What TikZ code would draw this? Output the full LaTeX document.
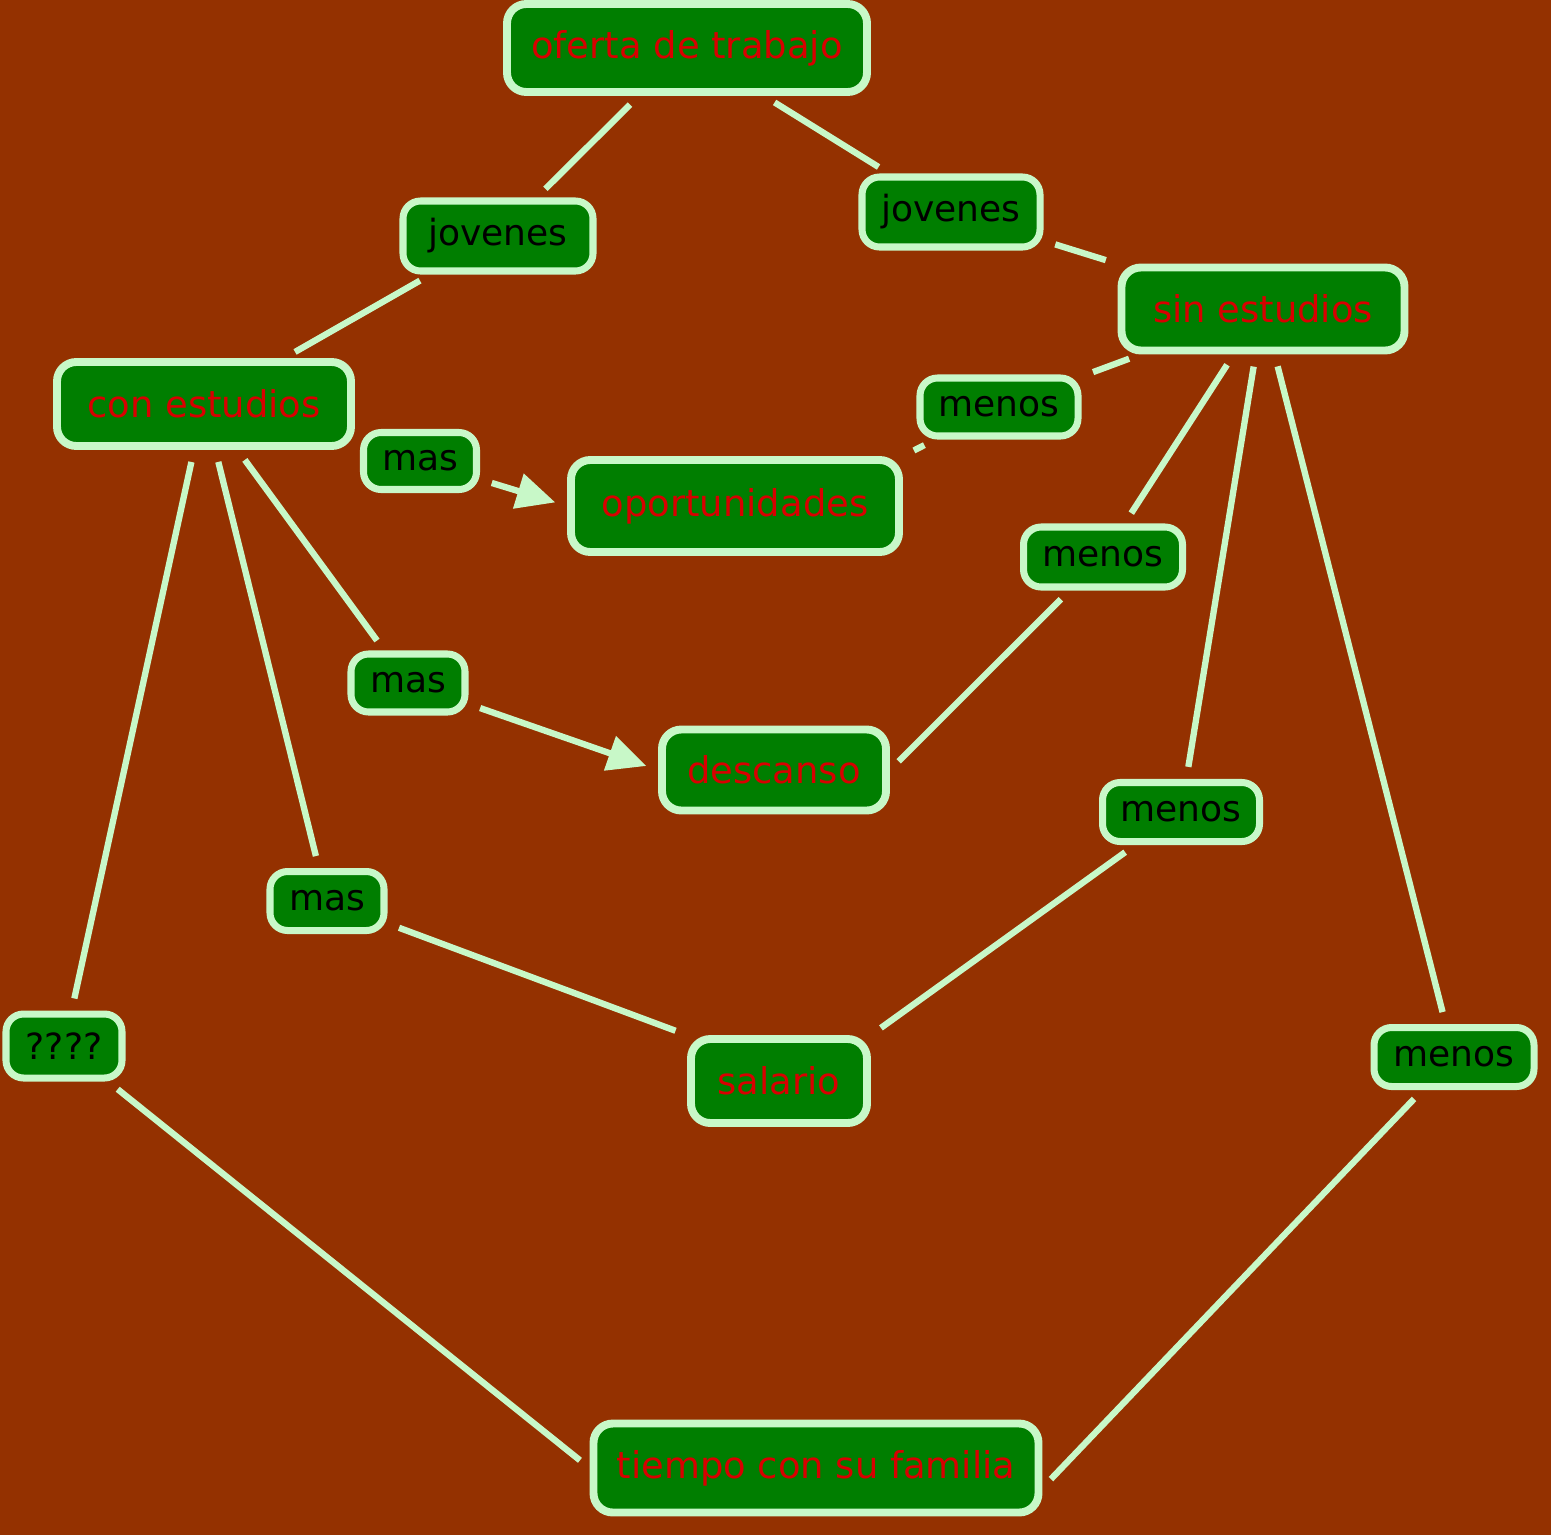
\documentclass[tikz,border=0pt]{standalone}
\usepackage{fontspec}
\setmainfont{DejaVu Sans}
\usetikzlibrary{arrows.meta}
\definecolor{bg}{HTML}{943100}
\definecolor{bd}{HTML}{C8F8C8}
\definecolor{gf}{HTML}{007E00}
\definecolor{rt}{HTML}{D80000}
\begin{document}
\begin{tikzpicture}[x=0.02cm,y=-0.02cm,
 concept/.style={draw=bd,line width=4.5pt,fill=gf,rounded corners=11pt,text=rt,font=\fontsize{21}{25}\selectfont,inner sep=0pt},
 link/.style={draw=bd,line width=4pt,fill=gf,rounded corners=10pt,text=black,font=\fontsize{20.5}{24}\selectfont,inner sep=0pt},
 conn/.style={draw=bd,line width=3.6pt,shorten >=7pt,shorten <=7pt},
 arr/.style={conn,-{Triangle[length=22pt,width=20pt]}}]
\fill[bg] (0,0) rectangle (1551,1535);
\useasboundingbox (0,0) rectangle (1551,1535);
\node[concept,minimum width=360*0.02cm,minimum height=88*0.02cm] (of) at (687,48) {oferta de trabajo};
\node[link,minimum width=190*0.02cm,minimum height=70*0.02cm] (j1) at (498,236) {jovenes};
\node[link,minimum width=178*0.02cm,minimum height=70*0.02cm] (j2) at (951,212) {jovenes};
\node[concept,minimum width=283*0.02cm,minimum height=83*0.02cm] (se) at (1263,309) {sin estudios};
\node[concept,minimum width=294*0.02cm,minimum height=84*0.02cm] (ce) at (204,404) {con estudios};
\node[link,minimum width=158*0.02cm,minimum height=58*0.02cm] (m1) at (999,407) {menos};
\node[link,minimum width=113*0.02cm,minimum height=57*0.02cm] (a1) at (420,461) {mas};
\node[concept,minimum width=328*0.02cm,minimum height=92*0.02cm] (op) at (735,506) {oportunidades};
\node[link,minimum width=159*0.02cm,minimum height=60*0.02cm] (m2) at (1103,557) {menos};
\node[link,minimum width=114*0.02cm,minimum height=58*0.02cm] (a2) at (408,683) {mas};
\node[concept,minimum width=224*0.02cm,minimum height=81*0.02cm] (de) at (774,770) {descanso};
\node[link,minimum width=157*0.02cm,minimum height=59*0.02cm] (m3) at (1181,812) {menos};
\node[link,minimum width=114*0.02cm,minimum height=59*0.02cm] (a3) at (327,901) {mas};
\node[link,minimum width=116*0.02cm,minimum height=64*0.02cm] (q) at (64,1046) {????};
\node[concept,minimum width=176*0.02cm,minimum height=84*0.02cm] (sa) at (779,1081) {salario};
\node[link,minimum width=160*0.02cm,minimum height=59*0.02cm] (m4) at (1454,1057) {menos};
\node[concept,minimum width=445*0.02cm,minimum height=89*0.02cm] (ti) at (816,1468) {tiempo con su familia};
\draw[conn] (of) -- (j1); \draw[conn] (j1) -- (ce);
\draw[conn] (of) -- (j2); \draw[conn] (j2) -- (se);
\draw[conn] (se) -- (m1); \draw[conn] (m1) -- (op.north east);
\draw[arr] (a1) -- (op.west);
\draw[conn] (ce) -- (a2); \draw[arr] (a2) -- (de.west);
\draw[conn] (se) -- (m2); \draw[conn] (m2) -- (de.east);
\draw[conn] (se) -- (m3); \draw[conn] (m3) -- (sa.north east);
\draw[conn] (ce) -- (a3); \draw[conn] (a3) -- (sa.north west);
\draw[conn] (ce) -- (q); \draw[conn] (q) -- (ti.west);
\draw[conn] (se) -- (m4); \draw[conn] (m4) -- ([yshift=-0.4cm]ti.east);
\end{tikzpicture}
\end{document}
